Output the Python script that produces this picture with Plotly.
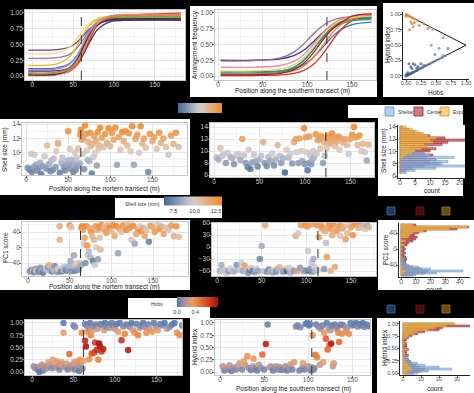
import plotly.graph_objects as go

W, H = 474, 393

# ---------------- data ----------------
# Fitted clines (arrangement frequency) sampled along the northern transect
cline_x_north = [-5, 30, 45, 55, 62, 70, 80, 95, 120, 182]
cline_y_north = [
    [0.41, 0.418, 0.455, 0.536, 0.630, 0.742, 0.830, 0.872, 0.880, 0.880],
    [0.35, 0.367, 0.448, 0.594, 0.723, 0.841, 0.914, 0.944, 0.950, 0.950],
    [0.28, 0.290, 0.339, 0.447, 0.571, 0.718, 0.834, 0.889, 0.900, 0.900],
    [0.17, 0.192, 0.296, 0.483, 0.649, 0.800, 0.894, 0.932, 0.940, 0.940],
    [0.12, 0.132, 0.194, 0.330, 0.486, 0.671, 0.817, 0.886, 0.900, 0.900],
    [0.10, 0.114, 0.182, 0.331, 0.503, 0.707, 0.868, 0.945, 0.960, 0.960],
    [0.08, 0.087, 0.122, 0.211, 0.337, 0.530, 0.734, 0.854, 0.879, 0.880],
    [0.05, 0.064, 0.132, 0.281, 0.453, 0.657, 0.818, 0.895, 0.910, 0.910],
    [0.03, 0.041, 0.097, 0.225, 0.386, 0.601, 0.800, 0.908, 0.929, 0.930],
    [0.02, 0.028, 0.071, 0.179, 0.331, 0.565, 0.813, 0.920, 0.960, 0.990],
    [0.01, 0.022, 0.081, 0.218, 0.389, 0.618, 0.834, 0.944, 0.970, 0.970],
    [0.02, 0.034, 0.104, 0.257, 0.433, 0.641, 0.806, 0.884, 0.900, 0.900],
    [0.04, 0.051, 0.107, 0.237, 0.399, 0.617, 0.822, 0.926, 0.949, 0.950],
]
# Fitted clines along the southern transect
cline_x_south = [3, 40, 70, 85, 95, 105, 115, 125, 135, 150, 172]
cline_y_south = [
    [0.25, 0.252, 0.273, 0.324, 0.399, 0.516, 0.654, 0.771, 0.846, 0.897, 0.916],
    [0.24, 0.244, 0.286, 0.378, 0.494, 0.639, 0.770, 0.859, 0.907, 0.937, 0.948],
    [0.14, 0.142, 0.168, 0.232, 0.325, 0.470, 0.640, 0.785, 0.878, 0.942, 0.965],
    [0.07, 0.071, 0.084, 0.117, 0.171, 0.270, 0.416, 0.577, 0.706, 0.809, 0.851],
    [0.03, 0.033, 0.061, 0.130, 0.231, 0.387, 0.573, 0.729, 0.830, 0.899, 0.925],
    [0.01, 0.011, 0.020, 0.043, 0.084, 0.164, 0.304, 0.495, 0.686, 0.872, 0.961],
    [0.05, 0.053, 0.079, 0.144, 0.240, 0.387, 0.563, 0.710, 0.806, 0.871, 0.895],
    [0.03, 0.031, 0.047, 0.086, 0.149, 0.265, 0.437, 0.627, 0.779, 0.900, 0.950],
    [0.08, 0.083, 0.110, 0.177, 0.274, 0.425, 0.605, 0.756, 0.853, 0.920, 0.945],
    [0.02, 0.022, 0.045, 0.102, 0.190, 0.335, 0.524, 0.699, 0.815, 0.942, 0.980],
]

# Cline centres (dashed lines)
centre_cline_n, centre_cline_s = 60, 122
centre_size_n, centre_size_s = 65, 123
centre_pc1_n, centre_pc1_s = 63, 113
centre_hi_n, centre_hi_s = 62, 104

# Triangle plot: Hobs vs hybrid index
tri_hobs = [0.00, 0.02, 0.04, 0.06, 0.09, 0.12, 0.15, 0.20, 0.06, 0.10, 0.14, 0.22, 0.30, 0.40, 0.45, 0.08, 0.12, 0.36,
            0.42, 0.55, 0.62, 0.70, 0.48, 0.62,
            0.00, 0.02, 0.04, 0.06, 0.08, 0.10, 0.12, 0.15, 0.18, 0.20, 0.24, 0.28, 0.32, 0.36, 0.40, 0.45, 0.50, 0.55,
            0.60, 0.66, 0.08, 0.12, 0.15, 0.05, 0.10, 0.20, 0.25, 0.18, 0.30, 0.03, 0.00, 0.00]
tri_hi = [1.00, 0.99, 0.98, 0.97, 0.955, 0.94, 0.925, 0.90, 0.75, 0.85, 0.87, 0.82, 0.85, 0.79, 0.76, 0.88, 0.80, 0.77,
          0.50, 0.45, 0.62, 0.45, 0.35, 0.33,
          0.00, 0.01, 0.02, 0.03, 0.04, 0.05, 0.06, 0.075, 0.09, 0.10, 0.12, 0.14, 0.16, 0.18, 0.20, 0.225, 0.25, 0.275,
          0.30, 0.33, 0.15, 0.20, 0.18, 0.20, 0.12, 0.15, 0.20, 0.13, 0.17, 0.05, 0.97, 0.02]
tri_edge_hobs = [0, 1, 0]
tri_edge_hi = [1, 0.5, 0]

# Northern transect individuals
north_pos = [2, 4, 6, 7, 9, 10, 12, 13, 15, 17, 18, 20, 22, 24, 25, 27, 29, 30, 32, 33,
             35, 36, 38, 38, 40, 42, 43, 45, 46, 48, 49, 50, 51, 52, 52, 54, 55, 56, 57, 58,
             59, 60, 61, 62, 64, 64, 65, 66, 67, 68, 69, 70, 71, 72, 73, 74, 75, 76, 77, 78,
             79, 80, 81, 82, 83, 84, 85, 86, 87, 88, 90, 92, 94, 96, 98, 100, 102, 104, 106, 108,
             110, 112, 114, 116, 118, 120, 122, 124, 126, 128, 130, 132, 134, 136, 138, 140, 142, 145, 147, 150,
             152, 155, 158, 160, 163, 166, 169, 172, 175, 178, 181]
north_size = [7.9, 7.6, 9.8, 7.3, 8.0, 9.7, 8.3, 7.5, 7.8, 8.6, 7.0, 8.1, 9.5, 7.8, 11.0, 8.4, 7.4, 8.9, 7.6, 9.2,
              8.0, 10.2, 11.4, 11.2, 7.2, 8.6, 9.3, 8.0, 7.5, 8.3, 8.9, 13.0, 8.5, 10.5, 7.8, 9.0, 8.4, 7.3, 8.8, 10.0,
              7.6, 9.3, 8.1, 10.6, 12.5, 8.5, 13.2, 11.8, 9.8, 12.0, 7.7, 13.8, 12.6, 10.3, 9.0, 11.5, 8.8, 12.8, 10.9, 7.1,
              11.2, 9.4, 12.3, 10.0, 11.6, 8.2, 12.9, 10.6, 11.0, 13.5, 12.1, 10.8, 12.6, 11.4, 13.4, 10.9, 12.8, 11.8, 13.5, 8.3,
              12.2, 10.4, 12.9, 11.6, 13.0, 11.0, 12.7, 10.2, 13.7, 8.3, 11.9, 12.5, 10.0, 13.7, 11.3, 12.0, 10.7, 7.3, 12.6, 11.6,
              12.2, 10.5, 12.8, 11.4, 12.0, 10.8, 9.7, 12.4, 11.2, 12.8, 10.8]
north_pc1 = [-62, -58, -60, -64, -55, -60, -57, -63, -52, -60, -65, -58, -55, -50, -45, -60, -62, -57, -48, -60,
             -63, -55, 55, 20, -62, -58, -50, -57, -60, -55, -48, 57, -35, 52, -62, -45, -20, -60, -52, -42,
             -58, -50, -56, -40, 50, -45, 55, 45, 10, 25, -40, 55, 5, -20, -10, 50, -25, 40, 30, -35,
             20, -45, 55, 0, 45, -30, 52, 25, -5, 58, 48, 55, 38, 57, 50, 42, 58, 30, 55, -15,
             48, 40, 57, 52, 45, 58, 50, 20, 56, 10, 35, 48, 55, 42, 50, 30, 45, 15, 56, 52,
             40, 58, 48, 55, 35, 50, 45, 57, 30, 55, 28]
north_hi = [0.12, 0.08, 0.10, 0.05, 0.00, 0.12, 0.15, 0.03, 0.10, 0.07, 0.12, 0.20, 0.15, 0.08, 0.25, 0.10, 0.18, 0.22, 0.12, 0.05,
            0.15, 0.20, 1.00, 0.80, 0.10, 0.17, 0.05, 0.37, 0.12, 0.08, 0.15, 0.95, 0.20, 0.92, 0.05, 0.22, 0.18, 0.10, 0.02, 0.25,
            0.13, 0.80, 0.07, 0.23, 0.98, 0.64, 0.52, 0.95, 0.82, 0.90, 0.26, 1.00, 0.75, 0.38, 0.85, 0.93, 0.40, 0.60, 0.97, 0.45,
            0.88, 0.25, 0.58, 0.52, 0.98, 0.42, 0.95, 0.47, 0.85, 1.00, 0.92, 0.97, 0.90, 1.00, 0.95, 0.88, 0.98, 0.82, 1.00, 0.65,
            0.93, 0.78, 0.97, 0.45, 0.92, 1.00, 0.85, 0.80, 0.98, 0.75, 0.90, 0.95, 1.00, 0.92, 0.80, 0.97, 0.88, 0.82, 1.00, 0.93,
            0.85, 0.98, 0.95, 1.00, 0.88, 0.92, 0.97, 1.00, 0.80, 0.75, 0.95]
north_hobs = [0.15, 0.12, 0.20, 0.08, 0.02, 0.22, 0.25, 0.05, 0.18, 0.12, 0.20, 0.30, 0.25, 0.10, 0.35, 0.15, 0.30, 0.32, 0.18, 0.08,
              0.25, 0.30, 0.02, 0.35, 0.15, 0.28, 0.08, 0.55, 0.20, 0.12, 0.25, 0.08, 0.30, 0.10, 0.08, 0.35, 0.30, 0.15, 0.03, 0.38,
              0.22, 0.42, 0.12, 0.35, 0.04, 0.80, 0.90, 0.08, 0.40, 0.15, 0.40, 0.02, 0.45, 0.60, 0.30, 0.12, 0.65, 0.70, 0.05, 0.75,
              0.20, 0.45, 0.95, 0.85, 0.03, 0.70, 0.10, 0.80, 0.30, 0.02, 0.12, 0.05, 0.18, 0.03, 0.08, 0.22, 0.04, 0.35, 0.02, 0.75,
              0.10, 0.45, 0.05, 0.85, 0.12, 0.02, 0.28, 0.40, 0.04, 0.45, 0.18, 0.08, 0.02, 0.15, 0.40, 0.05, 0.25, 0.38, 0.03, 0.12,
              0.30, 0.04, 0.08, 0.02, 0.22, 0.12, 0.05, 0.02, 0.40, 0.42, 0.08]

# Southern transect individuals
south_pos = [3, 5, 7, 9, 11, 13, 15, 18, 20, 22, 25, 27, 29, 31, 33, 35, 37, 38, 40, 42,
             44, 46, 48, 50, 52, 54, 56, 58, 60, 62, 64, 66, 68, 70, 72, 74, 76, 78, 80, 82,
             84, 86, 88, 90, 91, 93, 94, 96, 97, 99, 100, 101, 102, 103, 104, 105, 106, 107, 108, 109,
             110, 112, 113, 114, 116, 117, 118, 120, 121, 122, 123, 124, 125, 126, 127, 128, 129, 130, 132, 133,
             134, 135, 137, 138, 140, 142, 144, 146, 148, 150, 152, 154, 156, 158, 160, 162, 164, 166, 168, 170]
south_size = [8.9, 8.6, 10.5, 9.2, 9.5, 8.0, 9.7, 9.0, 8.8, 7.8, 9.3, 9.5, 8.5, 12.0, 9.3, 8.0, 7.3, 10.2, 7.0, 8.1,
              9.4, 8.3, 7.4, 8.6, 9.2, 11.5, 8.0, 7.5, 9.0, 8.3, 9.6, 7.6, 8.6, 11.0, 9.2, 8.0, 8.8, 6.4, 10.2, 8.9,
              9.5, 7.9, 11.5, 12.0, 9.8, 8.0, 12.1, 10.0, 8.3, 13.8, 7.8, 12.3, 9.8, 6.8, 8.0, 12.4, 9.3, 7.8, 8.6, 10.0,
              8.9, 12.8, 9.6, 11.8, 12.0, 10.4, 12.5, 8.0, 11.5, 9.2, 12.2, 10.5, 11.8, 12.6, 11.2, 12.0, 11.5, 12.9, 11.8, 10.8,
              12.3, 11.6, 12.4, 10.2, 12.1, 11.4, 12.0, 11.0, 9.5, 12.0, 12.7, 14.0, 12.3, 11.0, 12.6, 10.0, 11.2, 9.8, 8.4, 11.1]
south_pc1 = [-60, -45, -62, -58, -65, -60, -55, -62, -60, -45, -57, -40, -60, -47, -62, -65, -58, -52, -60, -63,
             -55, -60, -30, 3, -60, 55, -62, -56, -60, -64, -58, -62, -55, -50, -60, -62, -57, -60, -52, -65,
             -56, -60, 28, -60, 35, -52, 55, -62, -58, 55, -60, 52, -10, -60, -55, 57, -40, -62, -30, -50,
             -60, 55, -58, 25, 55, 45, 50, -55, 40, 10, -25, 55, 48, 58, -60, 45, 30, 55, -50, 45,
             40, 50, 55, 28, 47, 52, 20, 35, 55, 50, 30, 58, 55, 48, 55, 50, 52, 45, 55, 50]
south_hi = [0.12, 0.03, 0.10, 0.06, 0.14, 0.02, 0.09, 0.05, 0.12, 0.18, 0.05, 0.22, 0.14, 0.32, 0.08, 0.04, 0.12, 0.27, 0.07, 0.03,
            0.15, 0.09, 0.36, 0.05, 0.57, 0.97, 0.10, 0.12, 0.03, 0.07, 0.12, 0.05, 0.10, 0.04, 0.06, 0.12, 0.03, 0.09, 0.16, 0.05,
            0.20, 0.93, 0.95, 0.03, 0.91, 0.08, 0.18, 0.05, 0.98, 1.00, 0.12, 0.95, 0.98, 0.03, 0.10, 0.75, 0.05, 0.08, 0.35, 0.97,
            0.30, 0.92, 0.15, 0.88, 0.95, 0.20, 0.80, 0.68, 1.00, 0.46, 0.90, 0.55, 0.85, 0.58, 0.95, 0.12, 0.18, 0.97, 0.88, 0.92,
            0.80, 0.61, 0.97, 0.78, 0.95, 0.82, 0.90, 0.78, 1.00, 0.95, 0.97, 1.00, 0.93, 0.98, 0.95, 1.00, 0.92, 0.97, 0.95, 0.93]
south_hobs = [0.20, 0.05, 0.30, 0.10, 0.25, 0.04, 0.15, 0.08, 0.20, 0.30, 0.08, 0.35, 0.25, 0.40, 0.12, 0.06, 0.20, 0.38, 0.10, 0.05,
              0.25, 0.15, 0.55, 0.08, 0.85, 0.05, 0.25, 0.20, 0.05, 0.10, 0.18, 0.08, 0.15, 0.06, 0.10, 0.20, 0.05, 0.15, 0.28, 0.08,
              0.30, 0.10, 0.08, 0.05, 0.10, 0.12, 0.30, 0.08, 0.03, 0.02, 0.20, 0.05, 0.04, 0.05, 0.15, 0.40, 0.08, 0.10, 0.50, 0.05,
              0.45, 0.10, 0.25, 0.15, 0.08, 0.30, 0.38, 0.60, 0.02, 0.55, 0.15, 0.50, 0.20, 0.85, 0.05, 0.25, 0.30, 0.05, 0.20, 0.10,
              0.42, 0.55, 0.04, 0.40, 0.08, 0.38, 0.15, 0.40, 0.03, 0.08, 0.05, 0.02, 0.10, 0.04, 0.06, 0.02, 0.10, 0.05, 0.06, 0.08]

# Histograms by habitat
habitats = ["Shelter", "Center", "Expo"]
size_bins = [6.6, 6.95, 7.3, 7.65, 8.0, 8.35, 8.7, 9.05, 9.4, 9.75, 10.1, 10.45, 10.8, 11.15, 11.5, 11.85,
             12.2, 12.55, 12.9, 13.25, 13.6, 13.95]
size_counts = {
    "Shelter": [2, 5, 12, 22, 14, 16, 12, 18, 10, 8, 5, 3, 2, 1, 0, 0, 0, 0, 0, 0, 0, 0],
    "Center": [0, 2, 4, 8, 13, 10, 12, 9, 11, 8, 10, 12, 9, 14, 16, 22, 15, 10, 7, 5, 3, 1],
    "Expo": [0, 0, 0, 0, 0, 0, 0, 1, 2, 4, 5, 7, 9, 8, 11, 10, 12, 9, 8, 6, 4, 2],
}
pc1_bins = [-65, -60, -55, -50, -45, -40, -35, -30, -25, -20, -15, -10, -5, 0, 5, 10, 15, 20, 25, 30, 35, 40, 45, 50, 55, 60]
pc1_counts = {
    "Shelter": [10, 24, 42, 20, 12, 5, 3, 2, 2, 1, 0, 1, 0, 1, 0, 0, 0, 0, 0, 0, 0, 0, 0, 2, 3, 1],
    "Center": [8, 16, 18, 14, 8, 4, 3, 3, 4, 3, 2, 3, 2, 3, 2, 4, 5, 8, 10, 11, 9, 12, 17, 38, 46, 10],
    "Expo": [0, 2, 3, 1, 1, 0, 0, 0, 0, 0, 0, 0, 0, 0, 0, 2, 0, 3, 0, 5, 6, 8, 15, 33, 45, 8],
}
hi_bins = [0.00, 0.04, 0.08, 0.12, 0.16, 0.20, 0.24, 0.28, 0.32, 0.36, 0.40, 0.44, 0.48, 0.52, 0.56, 0.60,
           0.64, 0.68, 0.72, 0.76, 0.80, 0.84, 0.88, 0.92, 0.96, 1.00]
hi_counts = {
    "Shelter": [8, 14, 27, 20, 12, 8, 4, 3, 2, 1, 1, 0, 0, 0, 0, 0, 0, 0, 0, 0, 0, 1, 1, 2, 4, 3],
    "Center": [6, 10, 12, 9, 7, 5, 4, 3, 2, 3, 2, 2, 3, 2, 2, 2, 1, 2, 3, 5, 8, 12, 20, 22, 37, 28],
    "Expo": [2, 3, 5, 4, 3, 2, 1, 1, 0, 0, 1, 0, 2, 0, 0, 1, 0, 0, 2, 3, 6, 8, 14, 18, 24, 29],
}

# ---------------- styling ----------------
FONT = "Liberation Sans, Arial, sans-serif"
north_cols = ["#6a3d9a", "#efe07a", "#9e6fb7", "#d9c21a", "#3f6fb5", "#c57bd0", "#4b2c7f",
              "#2a9d8f", "#5aa02c", "#d73027", "#f08080", "#333333", "#e6862d"]
south_cols = ["#4b2c7f", "#8c6d8f", "#e58ab0", "#3f6fb5", "#2e8b57", "#d73027", "#1b9e9e",
              "#e6862d", "#e8d44d", "#b2182b"]
hab_fill = {"Shelter": "rgba(150,188,226,0.72)", "Center": "rgba(196,70,76,0.72)", "Expo": "rgba(246,190,80,0.72)"}
hab_line = {"Shelter": "#5f8dbf", "Center": "#8c2328", "Expo": "#d19a2e"}
size_scale = [[0, "#456792"], [0.45, "#c9c7d3"], [0.55, "#dac8bd"], [1, "#f08a2c"]]
hobs_scale = [[0, "#4a78b5"], [0.18, "#a8939e"], [0.38, "#e6a06a"], [0.52, "#ec7d2e"], [0.78, "#cf3a1f"], [1, "#a50f15"]]
TICK = 6.5
TITLE = 6.5


def xd(a, b):
    return [a / W, b / W]


def yd(top, bot):
    return [1 - bot / H, 1 - top / H]


panels = [
    dict(x=(25, 185), y=(10, 80), xr=(-9, 187), yr=(-0.06, 1.04), xdt=50, ydt=0.25, fmt=".2f", st="grid", dark=True),
    dict(x=(215, 376), y=(10, 80), xr=(-3.4, 177), yr=(-0.06, 1.04), xdt=50, ydt=0.25, fmt=".2f", st="grid", dark=False),
    dict(x=(403, 469), y=(12, 79), xr=(-0.05, 1.05), yr=(-0.05, 1.04), xdt=0.25, ydt=0.25, fmt=".2f", xfmt=".2f",
         st="classic", dark=False, small=True),
    dict(x=(22, 187), y=(123, 175), xr=(-4.8, 191), yr=(6.88, 14.15), xdt=50, ydt=2, st="grid", dark=False),
    dict(x=(210, 374), y=(123, 177), xr=(-4.4, 176), yr=(5.67, 14.67), xdt=50, ydt=2, st="grid", dark=True),
    dict(x=(398, 465), y=(125, 178), xr=(-0.7, 21.7), yr=(5.7, 14.3), xdt=5, ydt=2, st="classic", dark=False),
    dict(x=(22, 188), y=(222, 276), xr=(-7.2, 192), yr=(-73.5, 65.8), xdt=50, ydt=40, st="grid", dark=False),
    dict(x=(212, 376), y=(223, 276), xr=(-5.6, 178), yr=(-72.5, 60.5), xdt=50, ydt=30, st="grid", dark=True),
    dict(x=(399, 470), y=(223, 277), xr=(-1.4, 46.8), yr=(-70, 65), xdt=10, ydt=40, st="classic", dark=False),
    dict(x=(25, 182), y=(320, 375), xr=(-8.5, 181), yr=(-0.06, 1.06), xdt=50, ydt=0.25, fmt=".2f", st="grid", dark=True),
    dict(x=(215, 370), y=(320, 375), xr=(-5.7, 170), yr=(-0.06, 1.06), xdt=50, ydt=0.25, fmt=".2f", st="grid", dark=False),
    dict(x=(400, 470), y=(321, 375), xr=(-1.7, 37.2), yr=(-0.04, 1.06), xdt=10, ydt=0.25, fmt=".2f", st="classic",
         dark=False, small=True),
]

# axis titles: text, x px, y px, rotation
axis_titles = [
    ("Position along the southern transect (m)", 292, 91, 0),
    ("Arrangement frequency", 195, 45, -90),
    ("Hobs", 436, 92, 0),
    ("Hybrid index", 388, 45, -90),
    ("Position along the nortern transect (m)", 104, 189, 0),
    ("Shell size (mm)", 5, 150, -90),
    ("count", 432, 191, 0),
    ("Shell size (mm)", 384, 151, -90),
    ("Position along the nortern transect (m)", 104, 287, 0),
    ("PC1 score", 5, 248, -90),
    ("count", 434, 289, 0),
    ("PC1 score", 385, 250, -90),
    ("Position along the southern transect (m)", 293, 389, 0),
    ("Hybrid index", 195, 347, -90),
    ("count", 435, 388, 0),
    ("Hybrid index", 385, 348, -90),
]


def ids(i):
    return ("x" if i == 0 else f"x{i + 1}"), ("y" if i == 0 else f"y{i + 1}")


fig = go.Figure()
layout = dict(
    width=W, height=H, margin=dict(l=0, r=0, t=0, b=0, autoexpand=False),
    paper_bgcolor="black", plot_bgcolor="white", showlegend=False, barmode="overlay",
    font=dict(family=FONT, size=7, color="#333"), template="none",
)

for i, p in enumerate(panels):
    xk = "xaxis" if i == 0 else f"xaxis{i + 1}"
    yk = "yaxis" if i == 0 else f"yaxis{i + 1}"
    xa, ya = ids(i)
    tcol = "#cfcfcf" if p["dark"] else "#4d4d4d"
    fsize = 5.5 if p.get("small") else TICK
    common = dict(automargin=False, zeroline=False, tickfont=dict(size=fsize, color=tcol, family=FONT),
                  ticks="outside", ticklen=2, tickwidth=0.6, tickcolor="#666", tickmode="linear", tick0=0,
                  tickangle=0)
    if p["st"] == "grid":
        common.update(showgrid=True, gridcolor="#e6e6e6", gridwidth=0.7, showline=True, mirror=True,
                      linecolor="#c4c4c4", linewidth=0.8)
    else:
        common.update(showgrid=False, showline=True, mirror=False, linecolor="#222", linewidth=0.9)
    xax = dict(common, domain=xd(*p["x"]), range=list(p["xr"]), dtick=p["xdt"], anchor=ya, ticklabelstandoff=-4)
    yax = dict(common, domain=yd(*p["y"]), range=list(p["yr"]), dtick=p["ydt"], anchor=xa, ticklabelstandoff=-2)
    if p["st"] == "grid":
        xax["minor"] = dict(tickmode="linear", tick0=0, dtick=p["xdt"] / 2, showgrid=True, gridcolor="#f3f3f3",
                            gridwidth=0.5, ticks="")
        yax["minor"] = dict(tickmode="linear", tick0=0, dtick=p["ydt"] / 2, showgrid=True, gridcolor="#f3f3f3",
                            gridwidth=0.5, ticks="")
    if "fmt" in p:
        yax["tickformat"] = p["fmt"]
    if "xfmt" in p:
        xax["tickformat"] = p["xfmt"]
    layout[xk] = xax
    layout[yk] = yax

# panel A / B clines
for ys, c in zip(cline_y_north, north_cols):
    fig.add_trace(go.Scatter(x=cline_x_north, y=ys, mode="lines", line=dict(color=c, width=1.3, shape="spline"),
                             xaxis="x", yaxis="y"))
for ys, c in zip(cline_y_south, south_cols):
    fig.add_trace(go.Scatter(x=cline_x_south, y=ys, mode="lines", line=dict(color=c, width=1.3, shape="spline"),
                             xaxis="x2", yaxis="y2"))

# panel C triangle
fig.add_trace(go.Scatter(x=tri_edge_hobs, y=tri_edge_hi, mode="lines", line=dict(color="#111", width=1),
                         xaxis="x3", yaxis="y3"))
fig.add_trace(go.Scatter(x=tri_hobs, y=tri_hi, mode="markers",
                         marker=dict(size=3, color=tri_hi, coloraxis="coloraxis4", opacity=0.85),
                         xaxis="x3", yaxis="y3"))

mk = dict(size=6.5, opacity=0.88, line=dict(width=0))
# shell size
fig.add_trace(go.Scatter(x=north_pos, y=north_size, mode="markers",
                         marker=dict(mk, color=north_size, coloraxis="coloraxis"), xaxis="x4", yaxis="y4"))
fig.add_trace(go.Scatter(x=south_pos, y=south_size, mode="markers",
                         marker=dict(mk, color=south_size, coloraxis="coloraxis2"), xaxis="x5", yaxis="y5"))
# PC1
fig.add_trace(go.Scatter(x=north_pos, y=north_pc1, mode="markers",
                         marker=dict(mk, color=north_size, coloraxis="coloraxis"), xaxis="x7", yaxis="y7"))
fig.add_trace(go.Scatter(x=south_pos, y=south_pc1, mode="markers",
                         marker=dict(mk, color=south_size, coloraxis="coloraxis2"), xaxis="x8", yaxis="y8"))
# hybrid index
fig.add_trace(go.Scatter(x=north_pos, y=north_hi, mode="markers",
                         marker=dict(mk, color=north_hobs, coloraxis="coloraxis3"), xaxis="x10", yaxis="y10"))
fig.add_trace(go.Scatter(x=south_pos, y=south_hi, mode="markers",
                         marker=dict(mk, color=south_hobs, coloraxis="coloraxis3"), xaxis="x11", yaxis="y11"))

# histograms
for bins, counts, ax, width in [(size_bins, size_counts, 6, 0.35), (pc1_bins, pc1_counts, 9, 5),
                                (hi_bins, hi_counts, 12, 0.04)]:
    for hname in ["Center", "Shelter", "Expo"]:
        fig.add_trace(go.Bar(y=bins, x=counts[hname], orientation="h", width=width,
                             marker=dict(color=hab_fill[hname], line=dict(color=hab_line[hname], width=0.5)),
                             xaxis=f"x{ax}", yaxis=f"y{ax}"))


# colour axes
def cbar(xc, yc, length, thick, tickvals=None, ticktext=None):
    d = dict(orientation="h", x=xc / W, xanchor="center", y=1 - yc / H, yanchor="middle", len=length / W,
             lenmode="fraction", thickness=thick, thicknessmode="pixels", outlinewidth=0, xpad=0, ypad=0,
             ticks="", tickfont=dict(size=5.5, color="#333"))
    if tickvals is None:
        d["showticklabels"] = False
    else:
        d["tickmode"] = "array"
        d["tickvals"] = tickvals
        d["ticktext"] = ticktext
    return d


layout["coloraxis"] = dict(colorscale=size_scale, cmin=6.4, cmax=13.2,
                           colorbar=cbar(193, 204, 58, 9, [7.5, 10, 12.5], ["7.5", "10.0", "12.5"]))
layout["coloraxis2"] = dict(colorscale=size_scale, cmin=6.4, cmax=13.2, colorbar=cbar(200, 108, 44, 10))
layout["coloraxis3"] = dict(colorscale=hobs_scale, cmin=0, cmax=0.9,
                            colorbar=cbar(197.5, 305, 41, 10, [0, 0.4], ["0.0", "0.4"]))
layout["coloraxis4"] = dict(colorscale=[[0, "#3a5c91"], [0.5, "#9a9aa8"], [1, "#e88a3a"]], cmin=0, cmax=1,
                            showscale=False)

shapes = []
# white panel backgrounds
for (x0, y0, x1, y1) in [(190, 6, 377, 97), (383, 3, 474, 97), (0, 119, 190, 195), (378, 117, 463, 196),
                         (0, 220, 190, 290), (378, 220, 474, 290), (190, 318, 372, 393), (377, 318, 474, 393),
                         (348, 105, 463, 118), (115, 198, 222, 218), (128, 298, 210, 318)]:
    shapes.append(dict(type="rect", xref="paper", yref="paper", x0=x0 / W, x1=x1 / W, y0=1 - y1 / H, y1=1 - y0 / H,
                       fillcolor="white", line=dict(width=0), layer="below"))

# dashed cline centres
for ax, c in [(1, centre_cline_n), (2, centre_cline_s), (4, centre_size_n), (5, centre_size_s),
              (7, centre_pc1_n), (8, centre_pc1_s), (10, centre_hi_n), (11, centre_hi_s)]:
    xa, ya = ids(ax - 1)
    shapes.append(dict(type="line", xref=xa, yref=f"{ya} domain", x0=c, x1=c, y0=0, y1=1,
                       line=dict(color="#333", width=1, dash="dash")))

# legend keys
key_x = [385, 414, 440]
for kx, hname in zip(key_x, habitats):
    shapes.append(dict(type="rect", xref="paper", yref="paper", x0=kx / W, x1=(kx + 9) / W,
                       y0=1 - 116 / H, y1=1 - 107 / H, fillcolor=hab_fill[hname],
                       line=dict(color=hab_line[hname], width=0.8)))
dark_fill = {"Shelter": "#1d3b5c", "Center": "#4a0d0d", "Expo": "#6b4c0c"}
dark_line = {"Shelter": "#3d6a9a", "Center": "#7a1a1a", "Expo": "#a07818"}
for ytop in [207, 305]:
    for kx, hname in zip(key_x, habitats):
        shapes.append(dict(type="rect", xref="paper", yref="paper", x0=(kx + 2) / W, x1=(kx + 10) / W,
                           y0=1 - (ytop + 8) / H, y1=1 - ytop / H, fillcolor=dark_fill[hname],
                           line=dict(color=dark_line[hname], width=0.8)))
layout["shapes"] = shapes

ann = []
for kx, hname in zip(key_x, habitats):
    ann.append(dict(x=(kx + 11) / W, y=1 - 111.5 / H, xref="paper", yref="paper", text=hname, showarrow=False,
                    xanchor="left", yanchor="middle", font=dict(size=5, color="#333")))
ann.append(dict(x=142 / W, y=1 - 204 / H, xref="paper", yref="paper", text="Shell size (mm)", showarrow=False,
                xanchor="center", yanchor="middle", font=dict(size=5, color="#333")))
ann.append(dict(x=157 / W, y=1 - 304 / H, xref="paper", yref="paper", text="Hobs", showarrow=False,
                xanchor="center", yanchor="middle", font=dict(size=5, color="#333")))
for text, tx, ty, rot in axis_titles:
    ann.append(dict(x=tx / W, y=1 - ty / H, xref="paper", yref="paper", text=text, showarrow=False,
                    xanchor="center", yanchor="middle", textangle=rot, font=dict(size=TITLE, color="#1a1a1a")))
layout["annotations"] = ann

fig.update_layout(**layout)
fig.write_html("out.html")
